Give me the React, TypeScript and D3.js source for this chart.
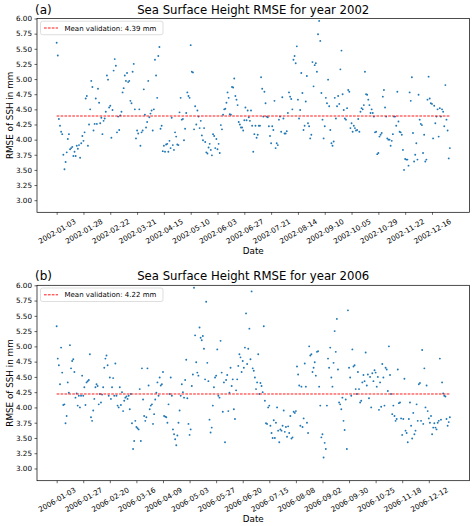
import * as d3 from "d3";
import { useEffect, useRef } from "react";

// daily RMSE of SSH (mm), in date order
const rmse2002a = [
  5.60, 5.39, 4.34, 4.23, 4.13, 4.09, 3.75, 3.51, 3.63,
  3.79, 4.01, 4.09, 3.84, 3.86, 3.88, 3.73, 3.80, 3.73, 3.90,
  3.85, 3.91, 3.70, 3.94, 4.06, 3.98, 4.12, 4.68, 4.72, 3.90,
  4.25, 4.50, 4.97, 4.87, 4.15, 4.26, 4.68, 4.26, 4.84, 4.61,
  4.27, 4.36, 4.09, 4.31, 4.35, 4.46, 5.06, 4.99, 4.53, 4.56,
  4.03, 4.49, 5.14, 5.33, 5.22, 4.12, 4.38, 4.16, 4.40, 4.46,
  4.78, 4.85, 5.06, 4.97, 5.10, 4.95, 4.97, 4.64, 4.60, 5.12,
  5.25, 4.50, 4.02, 4.15, 4.10, 4.50, 3.90, 4.12, 4.15, 4.83,
  4.41, 4.20, 4.29, 4.97, 4.37, 4.43, 4.48, 4.15, 4.50, 5.32,
  5.06, 4.69, 5.38, 5.53, 4.18, 4.23, 3.81, 3.90, 3.80, 3.92,
  3.93, 3.80, 3.98, 3.86, 4.36, 3.91, 3.83, 4.12, 4.05, 3.92,
  3.91, 4.45, 4.69, 4.33, 4.34, 3.99, 4.18, 4.44, 4.78, 4.72,
  4.69, 5.56, 5.12, 5.11, 4.17, 4.55, 4.25, 4.48, 4.38, 4.19,
  4.31, 4.07, 3.99, 4.19, 3.96, 3.79, 3.77, 3.87, 3.93, 3.83,
  3.74, 4.09, 4.06, 3.86, 4.01, 3.84, 3.93, 3.78, 4.24, 4.17,
  4.41, 4.50, 4.51, 4.61, 4.78, 4.69, 4.42, 4.41, 4.87, 4.86,
  5.01, 4.72, 4.66, 4.57, 4.29, 4.25, 4.20, 4.20, 4.15, 4.32,
  4.53, 4.32, 4.48, 4.37, 4.31, 4.48, 4.23, 3.80, 4.09, 4.23,
  4.03,
];
const rmse2002b = [
  4.08, 4.23, 4.23, 5.03, 4.84, 4.38, 4.79, 4.60, 4.38, 4.37,
  4.22, 4.06, 3.94, 4.22, 4.16, 4.64, 3.86, 3.94, 3.91, 4.33,
  4.38, 4.13, 4.70, 4.35, 4.10, 4.10, 4.14, 4.44, 4.78, 4.71,
  4.67, 4.50, 5.32, 5.38, 5.26, 5.54, 4.66, 4.35, 4.49, 5.10,
  4.77, 4.16, 4.23, 4.63, 5.05, 4.27, 4.22, 4.02, 4.08, 5.28,
  4.88, 5.23, 5.26, 5.12, 5.74, 5.96, 5.63, 4.77, 4.33, 4.02,
  4.22, 4.69, 4.60, 4.99, 4.55, 4.16, 3.94, 3.90, 3.97, 4.69,
  4.35, 4.55, 4.72, 4.59, 5.16, 5.47, 4.75, 4.49, 4.35, 4.33,
  4.52, 4.82, 4.79, 4.19, 4.27, 4.13, 4.23, 4.19, 4.15, 4.16,
  4.34, 4.13, 4.46, 4.52, 4.50, 4.57, 5.12, 4.75, 4.74, 4.66,
  4.57, 4.44, 4.50, 4.44, 4.38, 4.12, 4.13, 3.76, 3.78, 4.05,
  4.08, 4.11, 4.71, 4.82, 4.53, 4.38, 4.02, 4.00, 4.00, 3.90,
  3.98, 4.09, 4.38, 4.38, 4.23, 4.79, 4.30, 4.13, 4.12, 4.08,
  3.83, 3.50, 3.68, 3.67, 3.67, 3.57, 4.78, 4.64, 5.03, 4.11,
  3.64, 3.75, 3.94, 3.67, 4.74, 4.33, 4.26, 4.24, 3.78, 4.08,
  3.64, 3.67, 4.66, 5.04, 4.68, 4.60, 4.59, 4.02, 4.56, 4.27,
  4.38, 4.50, 4.05, 4.52, 4.38, 4.50, 4.46, 4.22, 4.90, 4.33,
  4.15, 3.69, 3.86,
];
const rmse2006a = [
  5.33, 4.80, 4.69, 4.38, 4.98, 4.57, 4.04, 4.05, 3.74, 3.86,
  4.41, 4.24, 5.02, 4.64, 4.76, 4.79, 4.58, 4.16,
  4.23, 4.03, 4.19, 4.00, 4.19, 4.52, 4.19, 4.33, 4.04,
  4.41, 4.43, 4.45, 4.87, 3.84, 3.78, 3.95, 4.14, 4.33,
  4.38, 4.35, 4.05, 4.22, 4.08, 4.21, 4.33, 4.65,
  4.80, 4.85, 4.69, 4.19, 4.49, 4.14, 4.33, 4.48, 4.19,
  4.72, 4.19, 4.03, 4.00, 4.33, 4.04, 4.25, 3.94, 4.11, 4.16,
  4.18, 4.14, 4.19, 3.97, 4.22, 3.74, 3.32,
  3.45, 3.78, 3.68, 3.66, 3.64, 4.30, 3.45, 4.64, 4.13, 3.86,
  3.78, 3.84, 4.64, 4.36, 3.97, 4.03, 4.05, 3.73,
  3.89, 4.13, 4.24, 4.41, 4.19, 4.49, 4.36, 4.38, 4.58,
  3.86, 3.85, 3.84, 3.75, 4.05, 4.22, 4.49, 4.19, 3.64,
  3.56, 3.48, 3.38, 3.54, 3.75, 3.95, 4.19, 4.38, 4.25,
  4.16, 4.45, 4.78, 4.15, 3.73, 3.55, 3.64, 4.35, 4.54, 5.96,
  5.18, 4.74, 4.57, 4.52, 5.31, 5.14, 5.10, 5.17, 4.96, 4.46,
  5.73, 4.73, 4.43, 3.80, 3.59, 3.67, 4.03, 4.33, 4.49,
  4.52, 4.95, 4.19, 4.16, 5.09, 4.57, 3.93, 4.41, 3.43, 4.45,
  4.53, 3.94, 4.24, 4.65, 4.35, 4.46, 3.97, 3.81, 4.28,
  4.46, 4.68, 4.87, 4.82, 4.58, 4.76, 4.65, 4.98, 5.54, 4.71,
  4.96, 5.29, 4.79, 5.90, 4.64, 4.60, 4.49, 4.30, 4.41, 4.87,
  4.22,
];
const rmse2006b = [
  4.40, 4.35, 4.25, 5.33, 4.11, 3.74, 3.73, 4.00, 4.03, 3.70,
  3.58, 3.50, 3.79, 3.50, 3.75, 4.00, 3.62, 3.43, 3.64,
  3.62, 3.70, 3.95, 3.60, 3.68, 3.52, 3.69,
  3.58, 3.86, 3.49, 3.51, 3.93, 3.91, 3.94, 4.67, 4.54,
  4.36, 3.70, 4.34, 3.68, 3.82, 4.72, 4.34, 3.75, 3.58,
  5.00, 4.85, 4.87, 4.58, 4.65, 4.74, 4.52, 4.91, 4.92,
  4.34, 4.03, 3.51, 3.56, 3.18, 3.42, 3.32, 4.03, 4.80,
  4.65, 4.98, 4.49, 4.34, 4.73, 5.25, 4.91, 5.45, 4.62, 4.08,
  4.05, 3.97, 4.16, 3.78, 3.63, 4.13, 3.32, 5.59, 4.65,
  4.49, 4.19, 4.95, 4.67, 4.69, 4.30, 4.22, 4.58, 4.30,
  4.08, 4.11, 4.41, 4.53, 4.43, 4.90, 4.36, 4.54, 4.15,
  4.50, 4.00, 4.56, 4.43, 4.61, 4.57, 4.34, 4.50, 3.96,
  4.41, 4.01, 4.71, 4.49, 4.03, 4.65, 4.62, 4.27,
  5.00, 4.53, 4.22, 3.89, 4.03, 3.86, 3.78, 3.81, 4.62, 4.07,
  4.08, 3.82, 3.55, 3.81, 4.47, 3.62, 3.58, 3.43,
  3.81, 4.08, 3.70, 3.49, 3.91, 3.56, 3.62, 4.05, 3.78,
  4.38, 4.40, 3.78, 4.94, 3.73, 4.64, 4.00, 4.36, 3.94, 3.82,
  3.75, 3.86, 3.56, 3.67, 3.74, 3.67, 3.64, 3.75, 3.78,
  4.80, 3.80, 4.41, 4.23, 4.19, 4.18, 3.81, 3.70, 3.76, 3.84,
];

const mean2002 = 4.39;
const mean2006 = 4.22;

const ticks2002 = [
  "2002-01-03", "2002-01-28", "2002-02-22", "2002-03-21", "2002-04-15",
  "2002-05-10", "2002-06-03", "2002-06-27", "2002-07-21", "2002-08-14",
  "2002-09-10", "2002-10-05", "2002-10-29", "2002-11-22", "2002-12-16",
];
const ticks2006 = [
  "2006-01-03", "2006-01-27", "2006-02-20", "2006-03-16", "2006-04-09",
  "2006-05-03", "2006-05-27", "2006-06-20", "2006-07-15", "2006-08-08",
  "2006-09-02", "2006-09-30", "2006-10-25", "2006-11-18", "2006-12-12",
];
const yTicks = [3.0, 3.25, 3.5, 3.75, 4.0, 4.25, 4.5, 4.75, 5.0, 5.25, 5.5, 5.75, 6.0];

const W = 474;
const H = 526;
const FONT = "'DejaVu Sans', sans-serif";
const LEFT = 37;
const RIGHT = 469.5;

function drawPanel(svg: any, o: any) {
  const n = o.values.length;
  const x = d3.scaleLinear().domain([-0.05 * (n - 1), 1.05 * (n - 1)]).range([LEFT, RIGHT]);
  const y = d3.scaleLinear().domain([2.8, 6.0]).range([o.bottom, o.top]);
  const g = svg.append("g");

  // points
  g.append("g")
    .selectAll("circle")
    .data(o.values)
    .enter()
    .append("circle")
    .attr("cx", (d: number, i: number) => x(i))
    .attr("cy", (d: number) => y(d))
    .attr("r", 0.95)
    .attr("fill", "#1f77b4");

  // mean line
  g.append("line")
    .attr("x1", x(0))
    .attr("x2", x(n - 1))
    .attr("y1", y(o.mean))
    .attr("y2", y(o.mean))
    .attr("stroke", "red")
    .attr("stroke-width", 0.9)
    .attr("stroke-dasharray", "2.7,1.2");

  // y axis
  const ya = g.append("g")
    .attr("transform", "translate(" + LEFT + ",0)")
    .call(d3.axisLeft(y).tickValues(yTicks).tickFormat(d3.format(".2f")).tickSize(2.5).tickPadding(2.5));
  ya.select(".domain").remove();
  ya.selectAll("line").attr("stroke", "#000").attr("stroke-width", 0.6);
  ya.selectAll("text").attr("font-family", FONT).attr("font-size", 7.2).attr("fill", "#000");

  // x axis
  const idx = o.tickLabels.map((_: string, k: number) => k * 24);
  const xa = g.append("g")
    .attr("transform", "translate(0," + o.bottom + ")")
    .call(d3.axisBottom(x).tickValues(idx).tickFormat((d: any, k: number) => o.tickLabels[k]).tickSize(2.5));
  xa.select(".domain").remove();
  xa.selectAll("line").attr("stroke", "#000").attr("stroke-width", 0.6);
  xa.selectAll("text")
    .attr("font-family", FONT)
    .attr("font-size", 7.2)
    .attr("fill", "#000")
    .attr("y", null)
    .attr("dy", null)
    .attr("text-anchor", "middle")
    .attr("dominant-baseline", "central")
    .attr("transform", "translate(0,19) rotate(-30)");

  // frame
  g.append("rect")
    .attr("x", LEFT)
    .attr("y", o.top)
    .attr("width", RIGHT - LEFT)
    .attr("height", o.bottom - o.top)
    .attr("fill", "none")
    .attr("stroke", "#000")
    .attr("stroke-width", 0.7);

  // legend
  const lg = g.append("g").attr("transform", "translate(" + (LEFT + 3.5) + "," + (o.top + 2.7) + ")");
  lg.append("rect")
    .attr("width", 122.5)
    .attr("height", 13.5)
    .attr("rx", 2)
    .attr("fill", "#fff")
    .attr("fill-opacity", 0.8)
    .attr("stroke", "#d0d0d0")
    .attr("stroke-width", 0.7);
  lg.append("line")
    .attr("x1", 3.5)
    .attr("x2", 17.5)
    .attr("y1", 6.8)
    .attr("y2", 6.8)
    .attr("stroke", "red")
    .attr("stroke-width", 0.9)
    .attr("stroke-dasharray", "2.7,1.2");
  lg.append("text")
    .attr("x", 24)
    .attr("y", 9.4)
    .attr("font-family", FONT)
    .attr("font-size", 7)
    .attr("fill", "#000")
    .text("Mean validation: " + o.mean.toFixed(2) + " mm");

  // titles and labels
  g.append("text")
    .attr("x", (LEFT + RIGHT) / 2)
    .attr("y", o.top - 5)
    .attr("text-anchor", "middle")
    .attr("font-family", FONT)
    .attr("font-size", 11.7)
    .attr("fill", "#000")
    .text("Sea Surface Height RMSE for year " + o.year);
  g.append("text")
    .attr("x", 35)
    .attr("y", o.top - 5)
    .attr("font-family", FONT)
    .attr("font-size", 12)
    .attr("fill", "#000")
    .text(o.letter);
  g.append("text")
    .attr("x", (LEFT + RIGHT) / 2)
    .attr("y", o.bottom + 41.5)
    .attr("text-anchor", "middle")
    .attr("font-family", FONT)
    .attr("font-size", 8.8)
    .attr("fill", "#000")
    .text("Date");
  g.append("text")
    .attr("transform", "translate(13," + (o.top + o.bottom) / 2 + ") rotate(-90)")
    .attr("text-anchor", "middle")
    .attr("font-family", FONT)
    .attr("font-size", 8.8)
    .attr("fill", "#000")
    .text("RMSE of SSH in mm");
}

export default function App() {
  const ref = useRef<SVGSVGElement>(null);

  useEffect(() => {
    const svg = d3.select(ref.current);
    svg.selectAll("*").remove();
    drawPanel(svg, {
      values: rmse2002a.concat(rmse2002b),
      mean: mean2002,
      tickLabels: ticks2002,
      letter: "(a)",
      year: 2002,
      top: 18.5,
      bottom: 212.3,
    });
    drawPanel(svg, {
      values: rmse2006a.concat(rmse2006b),
      mean: mean2006,
      tickLabels: ticks2006,
      letter: "(b)",
      year: 2006,
      top: 285.3,
      bottom: 480.7,
    });
  }, []);

  return (
    <svg
      ref={ref}
      width={W}
      height={H}
      style={{ position: "absolute", left: 0, top: 0, background: "#fff" }}
    />
  );
}
